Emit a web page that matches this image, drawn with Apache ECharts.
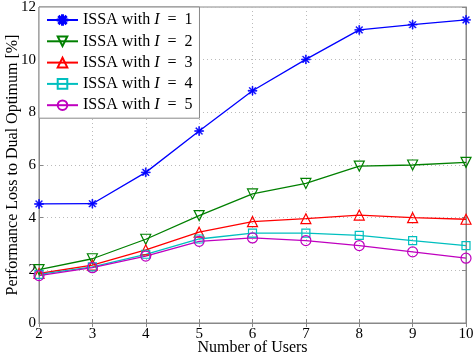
<!DOCTYPE html>
<html><head><meta charset="utf-8">
<script src="https://cdn.jsdelivr.net/npm/echarts@6/dist/echarts.min.js"></script>
<style>html,body{margin:0;padding:0;background:#fff}#c{width:474px;height:357px}</style>
</head><body><div id="c"></div>
<script>
const users = [2, 3, 4, 5, 6, 7, 8, 9, 10];
const seriesNames = ['ISSA with I = 1', 'ISSA with I = 2', 'ISSA with I = 3', 'ISSA with I = 4', 'ISSA with I = 5'];
const lossI1 = [4.52, 4.53, 5.72, 7.29, 8.82, 10.01, 11.13, 11.33, 11.51];
const lossI2 = [2.03, 2.44, 3.18, 4.08, 4.90, 5.30, 5.96, 6.00, 6.10];
const lossI3 = [1.88, 2.20, 2.78, 3.45, 3.85, 3.96, 4.10, 4.00, 3.94];
const lossI4 = [1.85, 2.13, 2.61, 3.19, 3.41, 3.41, 3.33, 3.13, 2.94];
const lossI5 = [1.80, 2.10, 2.54, 3.10, 3.23, 3.13, 2.94, 2.70, 2.46];
const yTicks = [0, 2, 4, 6, 8, 10, 12];

const colors = ['#0000ff', '#008000', '#ff0000', '#00bfbf', '#bf00bf'];
const asterisk = 'path://M-0.5,-5 L0.5,-5 L0.5,5 L-0.5,5 Z M-5,-0.5 L5,-0.5 L5,0.5 L-5,0.5 Z M-3.9,-3.2 L3.2,3.9 L3.9,3.2 L-3.2,-3.9 Z M-3.9,3.2 L-3.2,3.9 L3.9,-3.2 L3.2,-3.9 Z';
const symbols = [asterisk, 'triangle', 'triangle', 'rect', 'circle'];
const rotates = [0, 180, 0, 0, 0];
const sizes = [9, 10, 10, 8, 10];
const datas = [lossI1, lossI2, lossI3, lossI4, lossI5];
const font = '"Liberation Serif", "Times New Roman", serif';

const chart = echarts.init(document.getElementById('c'));
const axisLine = {show: true, lineStyle: {color: '#888', width: 1}};
chart.setOption({
  animation: false,
  backgroundColor: '#fff',
  grid: {left: 39, right: 8, top: 7, bottom: 34, show: true, borderColor: '#888', borderWidth: 1,
         containLabel: false, outerBoundsMode: 'none'},
  legend: {
    orient: 'vertical', left: 39, top: 7, itemWidth: 31, itemHeight: 12, itemGap: 5.3,
    padding: [5, 7, 5, 7], backgroundColor: '#fff', borderColor: '#888', borderWidth: 1,
    data: seriesNames,
    formatter: function (n) {
      return '{a|ISSA with }{i|I}{a|  =  ' + n.slice(-1) + '}';
    },
    textStyle: {
      fontFamily: font, fontSize: 16, color: '#000',
      rich: {a: {fontFamily: font, fontSize: 16, color: '#000'},
             i: {fontFamily: font, fontSize: 16, fontStyle: 'italic', color: '#000'}}
    }
  },
  xAxis: [{
    type: 'value', min: 2, max: 10, interval: 1,
    name: 'Number of Users', nameLocation: 'middle', nameGap: 17, nameMoveOverlap: false,
    nameTextStyle: {fontFamily: font, fontSize: 16, color: '#000'},
    axisLine: axisLine, axisTick: {inside: true, length: 4, lineStyle: {color: '#888'}},
    axisLabel: {fontFamily: font, fontSize: 15, color: '#000', margin: 4, hideOverlap: false},
    splitLine: {show: true, lineStyle: {type: [1, 3], color: '#bbb'}}
  }, {
    type: 'value', position: 'top', min: 2, max: 10, interval: 1,
    axisLine: axisLine, axisTick: {inside: true, length: 4, lineStyle: {color: '#888'}},
    axisLabel: {show: false}, splitLine: {show: false}
  }],
  yAxis: [{
    type: 'value', min: 0, max: 12, interval: 2,
    name: 'Performance Loss to Dual Optimum [%]', nameLocation: 'middle', nameGap: 18, nameMoveOverlap: false,
    nameTextStyle: {fontFamily: font, fontSize: 16, color: '#000'},
    axisLine: axisLine, axisTick: {inside: true, length: 4, lineStyle: {color: '#888'}},
    axisLabel: {fontFamily: font, fontSize: 15, color: '#000', margin: 3,
      formatter: v => yTicks.includes(v) ? String(v) : ''},
    splitLine: {show: true, lineStyle: {type: [1, 3], color: '#bbb'}}
  }, {
    type: 'value', position: 'right', min: 0, max: 12, interval: 2,
    axisLine: axisLine, axisTick: {inside: true, length: 4, lineStyle: {color: '#888'}},
    axisLabel: {show: false}, splitLine: {show: false}
  }],
  series: datas.map((d, k) => ({
    name: seriesNames[k], type: 'line', xAxisIndex: 0, yAxisIndex: 0,
    data: users.map((u, i) => [u, d[i]]),
    symbol: symbols[k], symbolSize: sizes[k], symbolRotate: rotates[k],
    showAllSymbol: true,
    lineStyle: {color: colors[k], width: 1.3},
    itemStyle: k === 0 ? {color: colors[k], borderColor: colors[k], borderWidth: 0.6}
                       : {color: 'rgba(255,255,255,0)', borderColor: colors[k], borderWidth: 1.2},
    emphasis: {disabled: true}
  }))
});
</script></body></html>
